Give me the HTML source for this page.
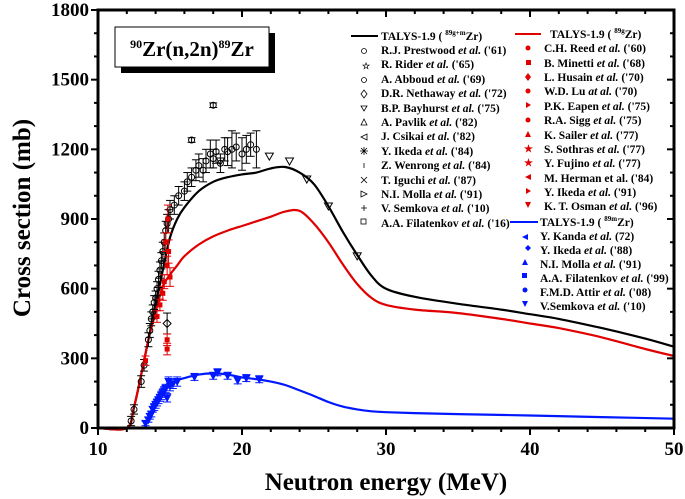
<!DOCTYPE html>
<html><head><meta charset="utf-8">
<style>
html,body{margin:0;padding:0;background:#fff;}
svg{display:block;font-family:"Liberation Serif",serif;}
</style></head>
<body>
<svg id="chart" width="685" height="499" viewBox="0 0 685 499">
<g id="plot"></g>
</svg>
<script>
// ---- data ----
const xTicks = [10, 20, 30, 40, 50];
const yTicks = [0, 300, 600, 900, 1200, 1500, 1800];

const talysGmE = [10,12,12.5,13,13.5,14,14.5,15,15.5,16,17,18,19,20,21,22,23,24,25,26,27,28,29,30,32,35,38,40,42,45,48,50];
const talysGmV = [0,0,90,230,380,530,680,820,900,950,1020,1060,1080,1092,1100,1118,1124,1100,1050,955,845,745,655,600,565,535,510,490,470,430,385,350];

const talysGE = [10,12,12.5,13,13.5,14,14.5,15,15.5,16,17,18,19,20,21,22,23,24,25,26,27,28,29,30,32,35,38,40,42,45,48,50];
const talysGV = [0,0,90,230,380,500,610,660,700,740,790,825,850,870,890,910,932,935,880,800,705,620,560,530,510,495,470,450,430,390,340,310];

const talysME = [10,13,13.3,13.6,14,14.5,15,15.5,16,17,18,19,20,21,22,23,24,25,26,27,28,29,30,32,35,40,45,50];
const talysMV = [0,0,15,50,100,150,185,205,215,230,235,230,218,210,200,185,162,138,112,92,80,72,68,64,60,54,47,40];

const blackE = [12.3,12.5,13,13.2,13.5,13.6,13.7,13.8,13.9,14,14.1,14.2,14.3,14.4,14.5,14.6,14.7,14.8,14.9,15,15.3,15.6,16,16.2,16.5,16.8,17,17.3,17.5,17.8,18,18.2,18.5,18,16.5,18.8,19,19.3,19.6,20,20.3,20.6,21];
const blackV = [30,80,200,270,380,420,470,500,540,560,600,640,680,720,760,800,850,880,900,940,960,1000,1020,1060,1080,1110,1130,1110,1150,1180,1160,1190,1140,1390,1240,1200,1190,1200,1210,1180,1200,1220,1200];
const blackErr = [20,20,25,25,30,30,30,30,30,30,30,35,35,35,40,40,40,40,40,40,40,40,40,40,40,45,50,50,50,60,40,50,40,10,10,50,60,80,60,70,60,50,80];

const bayhurstE = [18.5,21.9,23.3,24.5,26.0,28.0];
const bayhurstV = [1150,1171,1150,1072,956,741];

const nethawayE = [14.8];
const nethawayV = [450];

const redE = [13.3,14.1,14.3,14.5,14.6,14.7,14.8,14.8,14.8,14.85,14.9,15];
const redV = [290,480,530,580,630,800,340,380,700,900,760,650];
const redErr = [20,25,25,30,30,40,25,25,40,60,50,40];

const blueE = [13.3,13.5,13.6,13.7,13.8,13.9,14,14.1,14.2,14.3,14.4,14.5,14.6,14.7,14.8,14.9,15,15.2,15.5,16.7,18,18.3,19,19.7,20.3,21.2];
const blueV = [20,35,50,60,80,90,100,110,120,130,140,150,160,170,130,200,180,190,200,220,225,240,225,205,215,210];
const blueErr = [10,10,12,12,12,15,15,15,15,15,18,18,18,18,18,20,20,20,20,15,15,15,15,15,15,15];

// ---- layout ----
const X0=98, X1=674, Y0=428, Y1=10;
const xs = e => X0 + (e-10)/(50-10)*(X1-X0);
const ys = v => Y0 - v/1800*(Y0-Y1);
const NS="http://www.w3.org/2000/svg";
const plot=document.getElementById('plot');
function mk(tag, attrs, parent){
  const el=document.createElementNS(NS,tag);
  for(const k in attrs) el.setAttribute(k,attrs[k]);
  (parent||plot).appendChild(el); return el;
}

// smooth curves (Catmull-Rom)
function curve(E,V,color,name){
  const P=E.map((e,i)=>[xs(e),ys(V[i])]);
  let d='M'+P[0][0].toFixed(1)+','+P[0][1].toFixed(1);
  for(let i=0;i<P.length-1;i++){
    const p0=P[Math.max(0,i-1)],p1=P[i],p2=P[i+1],p3=P[Math.min(P.length-1,i+2)];
    const c1=[p1[0]+(p2[0]-p0[0])/6,p1[1]+(p2[1]-p0[1])/6];
    const c2=[p2[0]-(p3[0]-p1[0])/6,p2[1]-(p3[1]-p1[1])/6];
    d+=` C${c1[0].toFixed(1)},${c1[1].toFixed(1)} ${c2[0].toFixed(1)},${c2[1].toFixed(1)} ${p2[0].toFixed(1)},${p2[1].toFixed(1)}`;
  }
  const p=mk('path',{d:d,fill:'none',stroke:color,'stroke-width':2.2});
  
  
}

// error-bar points
function points(E,V,Err,color,shape,name){
  const g=mk('g',{});
  
  
  E.forEach((e,i)=>{
    const x=xs(e), y=ys(V[i]);
    if(Err && Err[i]){
      const y1=ys(V[i]+Err[i]), y2=ys(V[i]-Err[i]);
      mk('line',{x1:x,x2:x,y1:y1,y2:y2,stroke:color,'stroke-width':1},g);
      mk('line',{x1:x-4,x2:x+4,y1:y1,y2:y1,stroke:color,'stroke-width':1},g);
      mk('line',{x1:x-4,x2:x+4,y1:y2,y2:y2,stroke:color,'stroke-width':1},g);
    }
    drawShape(g,shape,x,y,color);
  });
}
function drawShape(g,shape,x,y,color){
  if(shape==='circle') mk('circle',{cx:x,cy:y,r:3,fill:'none',stroke:color,'stroke-width':1},g);
  else if(shape==='tri') mk('path',{d:`M${x-4},${y-3}L${x+4},${y-3}L${x},${y+4}Z`,fill:'none',stroke:color,'stroke-width':1},g);
  else if(shape==='ftri') mk('path',{d:`M${x-3.5},${y-3}L${x+3.5},${y-3}L${x},${y+3.5}Z`,fill:color,stroke:color},g);
  else if(shape==='diamond') mk('path',{d:`M${x},${y-4}L${x+4},${y}L${x},${y+4}L${x-4},${y}Z`,fill:'none',stroke:color,'stroke-width':1},g);
  else if(shape==='fsq') mk('rect',{x:x-2.5,y:y-2.5,width:5,height:5,fill:color},g);
}

curve(talysGmE,talysGmV,'#000','talys-gm-curve');
curve(talysGE,talysGV,'#e00000','talys-g-curve');
curve(talysME,talysMV,'#0018ff','talys-m-curve');
points(blackE,blackV,blackErr,'#000','circle','exp-gm-points');
points(bayhurstE,bayhurstV,null,'#000','tri','bayhurst-points');
points(nethawayE,nethawayV,[45],'#000','diamond','nethaway-points');
points(redE,redV,redErr,'#e00000','fsq','exp-g-points');
points(blueE,blueV,blueErr,'#0018ff','ftri','exp-m-points');

// axes
const ax=mk('g',{});


mk('rect',{x:X0,y:Y1,width:X1-X0,height:Y0-Y1,fill:'none',stroke:'#000','stroke-width':3},ax);
for(let e=10;e<=50;e+=2){
  const x=xs(e), maj=(e%10===0);
  mk('line',{x1:x,x2:x,y1:Y0,y2:Y0+(maj?7:4),stroke:'#000','stroke-width':2},ax);
  mk('line',{x1:x,x2:x,y1:Y1,y2:Y1+(maj?7:4),stroke:'#000','stroke-width':2},ax);
}
for(let v=0;v<=1800;v+=100){
  const y=ys(v), maj=(v%300===0);
  mk('line',{x1:X0,x2:X0-(maj?7:4),y1:y,y2:y,stroke:'#000','stroke-width':2},ax);
  mk('line',{x1:X1,x2:X1-(maj?7:4),y1:y,y2:y,stroke:'#000','stroke-width':2},ax);
}
xTicks.forEach(t=>{
  const tx=mk('text',{x:xs(t),y:Y0+27,'text-anchor':'middle','font-size':19,'font-weight':'bold'},ax);
  tx.textContent=t;
  
  
});
yTicks.forEach(t=>{
  const tx=mk('text',{x:X0-9,y:ys(t)+6,'text-anchor':'end','font-size':19,'font-weight':'bold'},ax);
  tx.textContent=t;
  
  
});
</script>
<svg width="685" height="499" style="position:absolute;left:0;top:0" font-family="Liberation Serif, serif">
<text x="386" y="490" text-anchor="middle" font-size="25" font-weight="bold">Neutron energy (MeV)</text>
<text transform="translate(30,218) rotate(-90)" text-anchor="middle" font-size="25" font-weight="bold">Cross section (mb)</text>
<g>
<rect x="121" y="33" width="154" height="40" fill="#000"/>
<rect x="115" y="27" width="154" height="40" fill="#fff" stroke="#000" stroke-width="1"/>
<text x="192" y="56" text-anchor="middle" font-size="21" font-weight="bold"><tspan font-size="12" dy="-8">90</tspan><tspan dy="8">Zr(n,2n)</tspan><tspan font-size="12" dy="-8">89</tspan><tspan dy="8">Zr</tspan></text>
</g>
<g font-size="11.5" font-weight="bold">
<line x1="351" x2="378" y1="36" y2="36" stroke="#000" stroke-width="2"/>
<text x="381" y="40">TALYS-1.9 ( <tspan font-size="7" dy="-5">89g+m</tspan><tspan dy="5">Zr)</tspan></text>
<g fill="none" stroke="#000" stroke-width="0.8">
<circle cx="364" cy="51" r="2.5"/>
<text x="362" y="69" font-size="9" stroke="none" fill="#000">☆</text>
<circle cx="364" cy="80" r="2.5"/>
<path d="M364,90L367,94L364,98L361,94Z"/>
<path d="M361,106L367,106L364,111Z"/>
<path d="M361,125L367,125L364,119Z"/>
<path d="M367,134L367,140L361,137Z"/>
<path d="M361,148L367,154M367,148L361,154M360,151L368,151M364,147L364,155"/>
<path d="M364,163L364,168"/>
<path d="M361,177L367,183M367,177L361,183"/>
<path d="M361,191L361,197L367,194Z"/>
<path d="M361,208L367,208M364,205L364,211"/>
<rect x="361" y="219" width="5" height="5"/>
</g>
<text x="381" y="54">R.J. Prestwood <tspan font-style="italic">et al.</tspan> ('61)</text>
<text x="381" y="68">R. Rider <tspan font-style="italic">et al.</tspan> ('65)</text>
<text x="381" y="83">A. Abboud <tspan font-style="italic">et al.</tspan> ('69)</text>
<text x="381" y="97">D.R. Nethaway <tspan font-style="italic">et al.</tspan> ('72)</text>
<text x="381" y="112">B.P. Bayhurst <tspan font-style="italic">et al.</tspan> ('75)</text>
<text x="381" y="126">A. Pavlik <tspan font-style="italic">et al.</tspan> ('82)</text>
<text x="381" y="140">J. Csikai <tspan font-style="italic">et al.</tspan> ('82)</text>
<text x="381" y="155">Y. Ikeda <tspan font-style="italic">et al.</tspan> ('84)</text>
<text x="381" y="169">Z. Wenrong <tspan font-style="italic">et al.</tspan> ('84)</text>
<text x="381" y="184">T. Iguchi <tspan font-style="italic">et al.</tspan> ('87)</text>
<text x="381" y="198">N.I. Molla <tspan font-style="italic">et al.</tspan> ('91)</text>
<text x="381" y="212">V. Semkova <tspan font-style="italic">et al.</tspan> ('10)</text>
<text x="381" y="227">A.A. Filatenkov <tspan font-style="italic">et al.</tspan> ('16)</text>

<line x1="515" x2="541" y1="34" y2="34" stroke="#e00000" stroke-width="2"/>
<text x="550" y="38">TALYS-1.9 ( <tspan font-size="7" dy="-5">89g</tspan><tspan dy="5">Zr)</tspan></text>
<g fill="#e00000">
<circle cx="528" cy="48" r="2.5"/>
<rect x="526" y="60" width="5" height="5"/>
<path d="M528,73L531,77L528,81L525,77Z"/>
<circle cx="528" cy="91" r="2.5"/>
<path d="M526,102L526,108L531,105Z"/>
<circle cx="528" cy="120" r="2.5"/>
<path d="M525,137L531,137L528,131Z"/>
<text x="524" y="152" font-size="10">★</text>
<text x="524" y="166" font-size="10">★</text>
<path d="M531,174L531,180L525,177Z"/>
<path d="M526,188L526,194L531,191Z"/>
<path d="M525,202L531,202L528,208Z"/>
</g>
<text x="544" y="52">C.H. Reed <tspan font-style="italic">et al.</tspan> ('60)</text>
<text x="544" y="67">B. Minetti <tspan font-style="italic">et al.</tspan> ('68)</text>
<text x="544" y="81">L. Husain <tspan font-style="italic">et al.</tspan> ('70)</text>
<text x="544" y="95">W.D. Lu <tspan font-style="italic">at al.</tspan> ('70)</text>
<text x="544" y="110">P.K. Eapen <tspan font-style="italic">et al.</tspan> ('75)</text>
<text x="544" y="124">R.A. Sigg <tspan font-style="italic">et al.</tspan> ('75)</text>
<text x="544" y="139">K. Sailer <tspan font-style="italic">et al.</tspan> ('77)</text>
<text x="544" y="153">S. Sothras <tspan font-style="italic">et al.</tspan> ('77)</text>
<text x="544" y="167">Y. Fujino <tspan font-style="italic">et al.</tspan> ('77)</text>
<text x="544" y="182">M. Herman et al. ('84)</text>
<text x="544" y="196">Y. Ikeda <tspan font-style="italic">et al.</tspan> ('91)</text>
<text x="544" y="210">K. T. Osman <tspan font-style="italic">et al.</tspan> ('96)</text>

<line x1="510" x2="538" y1="222" y2="222" stroke="#0018ff" stroke-width="2"/>
<text x="540" y="226">TALYS-1.9 ( <tspan font-size="7" dy="-5">89m</tspan><tspan dy="5">Zr)</tspan></text>
<g fill="#0018ff">
<path d="M528,234L528,240L522,237Z"/>
<path d="M525,248L528,245L531,248L528,251Z"/>
<path d="M522,265L528,265L525,259Z"/>
<rect x="522" y="273" width="5" height="5"/>
<circle cx="525" cy="290" r="2.5"/>
<path d="M522,301L528,301L525,307Z"/>
</g>
<text x="540" y="240">Y. Kanda <tspan font-style="italic">et al.</tspan> (72)</text>
<text x="540" y="254">Y. Ikeda <tspan font-style="italic">et al.</tspan> ('88)</text>
<text x="540" y="268">N.I. Molla <tspan font-style="italic">et al.</tspan> ('91)</text>
<text x="540" y="282">A.A. Filatenkov <tspan font-style="italic">et al.</tspan> ('99)</text>
<text x="540" y="296">F.M.D. Attir <tspan font-style="italic">et al.</tspan> ('08)</text>
<text x="540" y="310">V.Semkova <tspan font-style="italic">et al.</tspan> ('10)</text>
</g>
</svg>
</body></html>
